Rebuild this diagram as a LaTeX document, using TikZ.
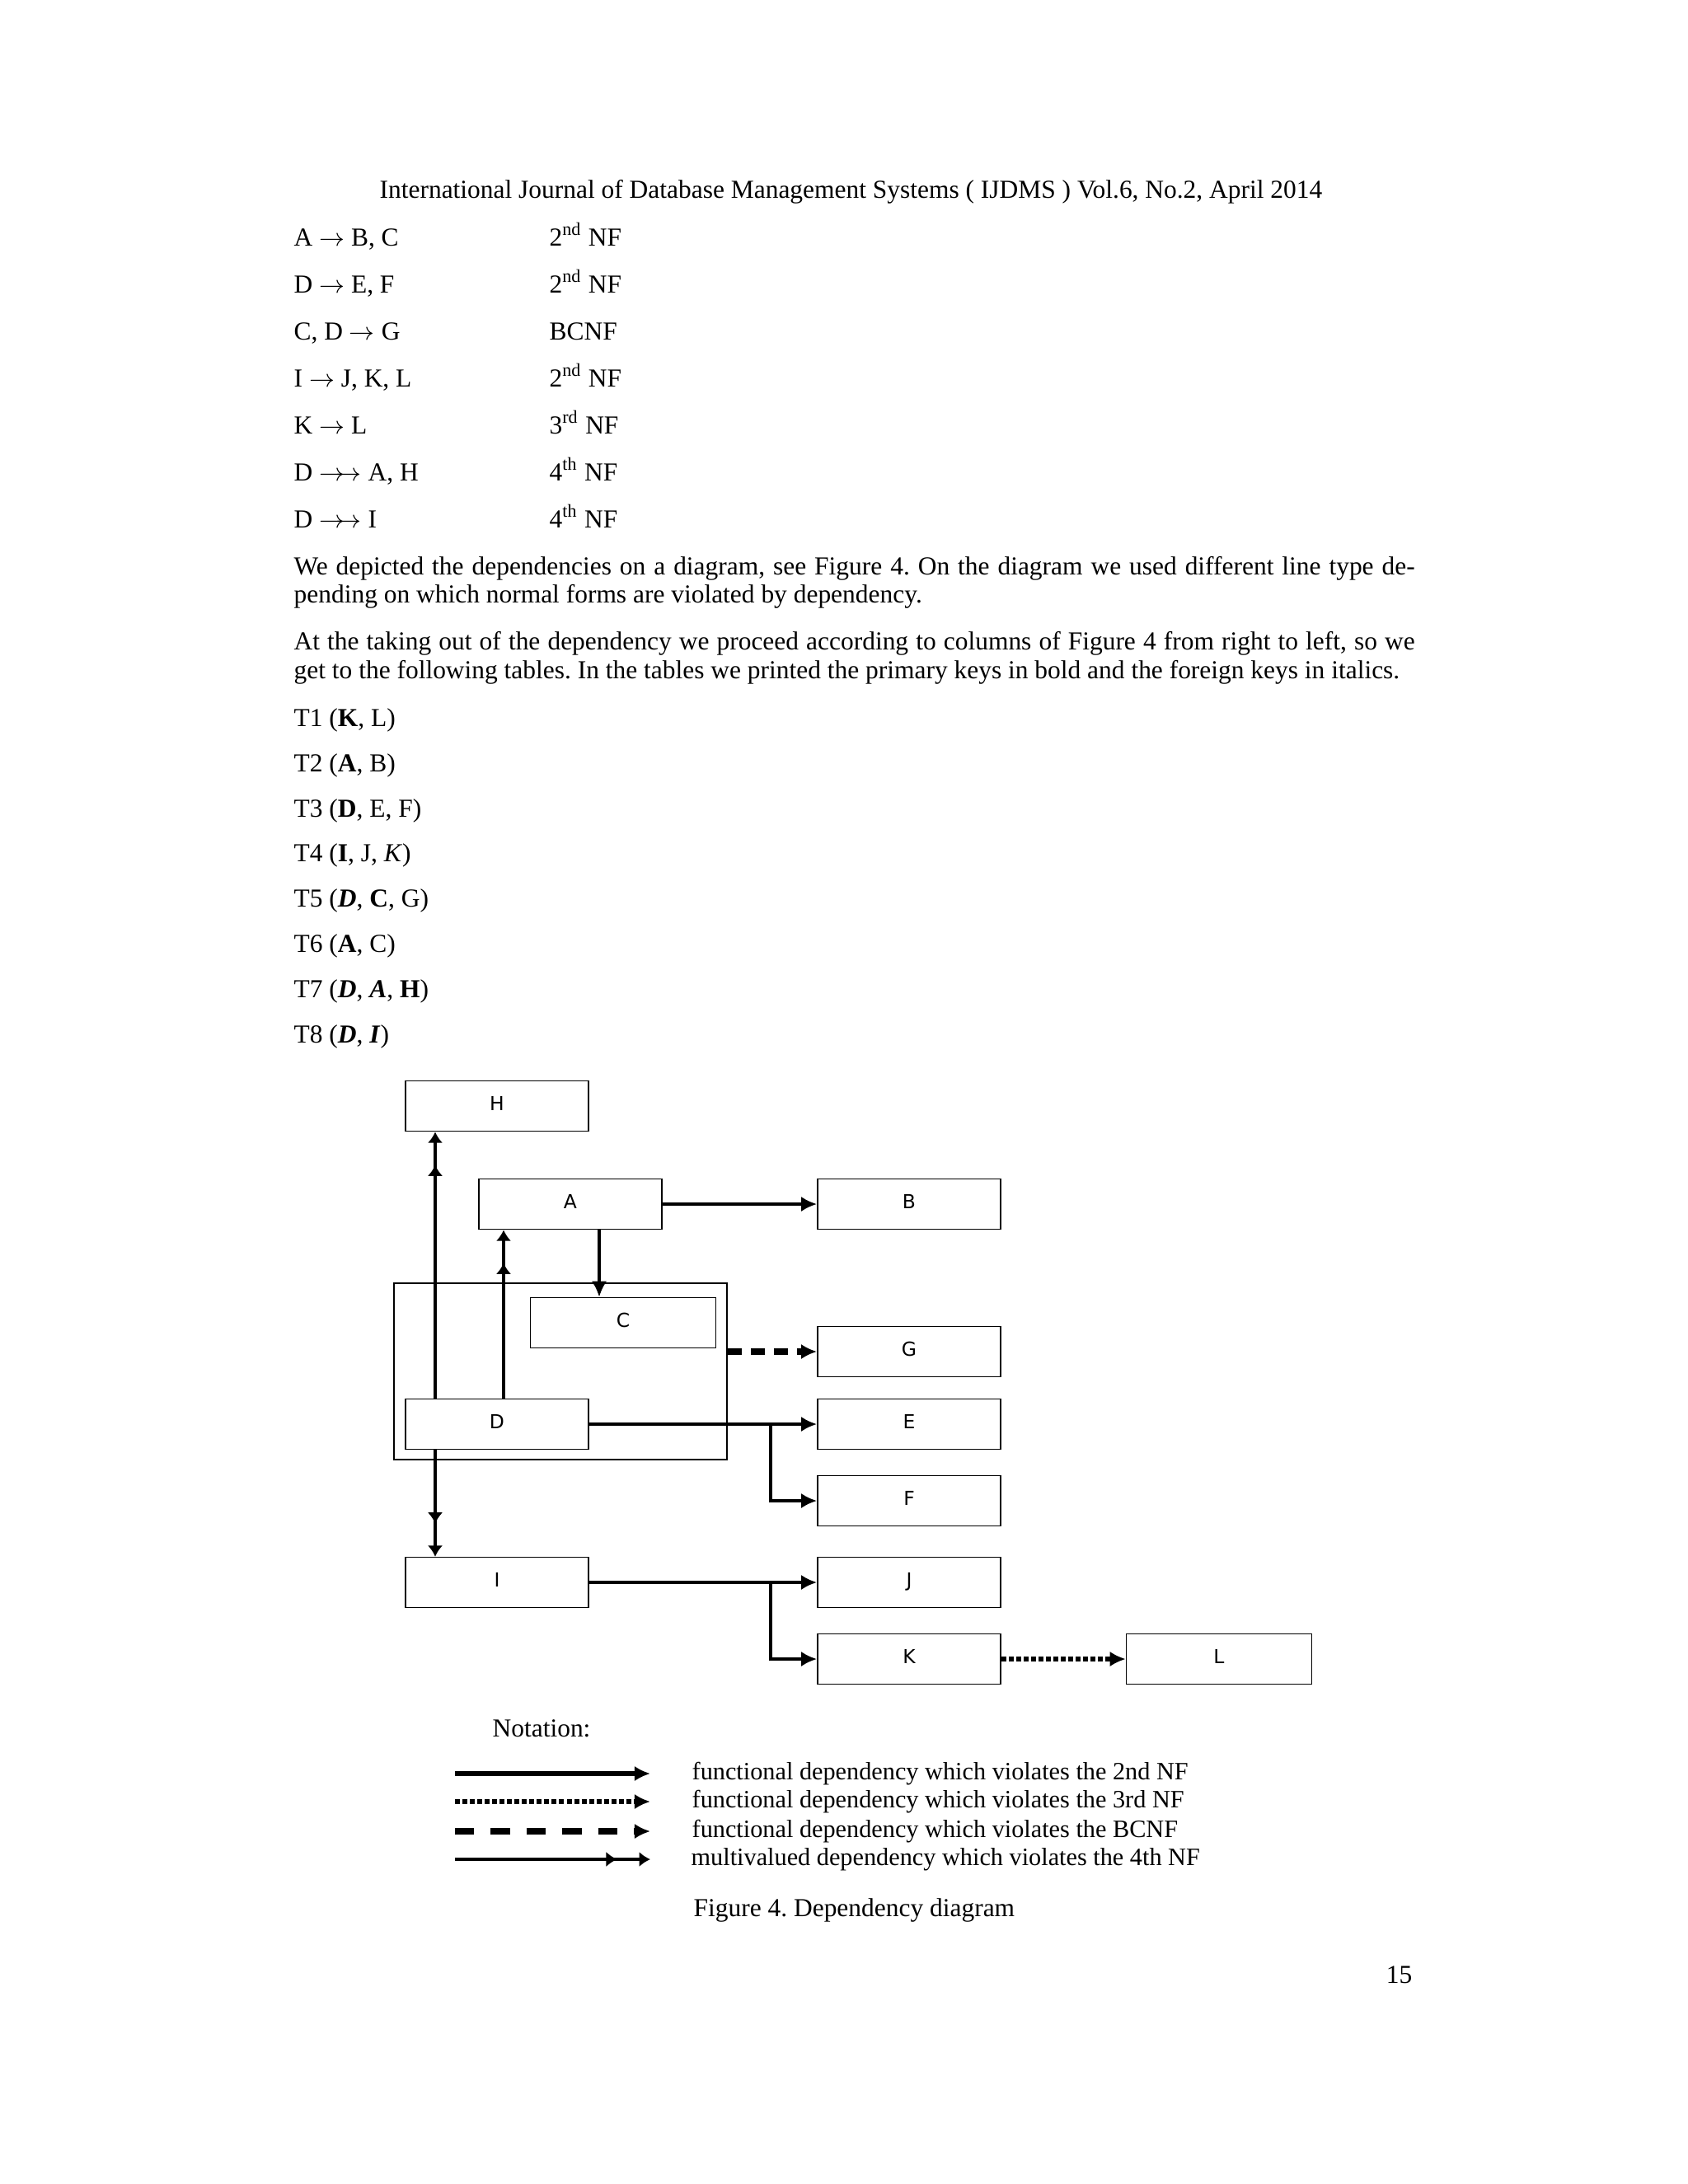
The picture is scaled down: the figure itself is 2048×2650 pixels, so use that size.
\documentclass[tikz,border=0pt]{standalone}
\usepackage{fontspec}
\setmainfont{Liberation Serif}
\newfontfamily\boxfont{DejaVu Sans}
\usepackage{tikz}
\usetikzlibrary{arrows.meta}
\frenchspacing
\tikzstyle{entity}=[draw, line width=0.5pt, minimum width=66.4pt, minimum height=18.2pt, inner sep=0pt, text height=5.1pt, text depth=2pt, font=\boxfont\fontsize{7}{8}\selectfont]
\tikzstyle{keyframe}=[draw, line width=0.5pt, minimum width=120.9pt, minimum height=64pt, inner sep=0pt]
\tikzstyle{pagetext}=[anchor=base west, inner sep=0pt, font=\fontsize{9.4}{11}\selectfont]
\tikzstyle{legendtext}=[anchor=base west, inner sep=0pt, font=\fontsize{9.05}{11}\selectfont]
\tikzstyle{secondnf}=[line width=1.1pt, -{Latex[length=5.7pt,width=5.5pt]}]
\tikzstyle{thirdnf}=[line width=1.8pt, dash pattern=on 1.8pt off 0.9pt, -{Latex[length=5.7pt,width=5.5pt]}]
\tikzstyle{bcnf}=[line width=2.2pt, dash pattern=on 5.1pt off 3.3pt, -{Latex[length=5.7pt,width=5.5pt]}]
\tikzstyle{fourthnf}=[line width=1.1pt, -{Latex[length=4pt,width=5.5pt,sep=8pt]Latex[length=4pt,width=5.5pt]}]

\begin{document}
\begin{tikzpicture}[x=0.2989pt,y=-0.2989pt]
	\fill[white] (0,0) rectangle (2048,2650);
	\useasboundingbox (0,0) rectangle (2048,2650);
	% page text
	\node[pagetext] (header) at (460,240) {International Journal of Database Management Systems ( IJDMS ) Vol.6, No.2, April 2014};
	\node[pagetext] (dep1) at (356,298) {A $\rightarrow$ B, C};
	\node[pagetext] (nf1) at (666,298) {2\textsuperscript{nd} NF};
	\node[pagetext] (dep2) at (356,355) {D $\rightarrow$ E, F};
	\node[pagetext] (nf2) at (666,355) {2\textsuperscript{nd} NF};
	\node[pagetext] (dep3) at (356,412) {C, D $\rightarrow$ G};
	\node[pagetext] (nf3) at (666,412) {BCNF};
	\node[pagetext] (dep4) at (356,469) {I $\rightarrow$ J, K, L};
	\node[pagetext] (nf4) at (666,469) {2\textsuperscript{nd} NF};
	\node[pagetext] (dep5) at (356,526) {K $\rightarrow$ L};
	\node[pagetext] (nf5) at (666,526) {3\textsuperscript{rd} NF};
	\node[pagetext] (dep6) at (356,583) {D $\rightarrow\!\!\rightarrow$ A, H};
	\node[pagetext] (nf6) at (666,583) {4\textsuperscript{th} NF};
	\node[pagetext] (dep7) at (356,640) {D $\rightarrow\!\!\rightarrow$ I};
	\node[pagetext] (nf7) at (666,640) {4\textsuperscript{th} NF};
	\node[pagetext] (par1a) at (356,697) {\makebox[406.5pt][s]{We depicted the dependencies on a diagram, see Figure 4. On the diagram we used different line type de-}};
	\node[pagetext] (par1b) at (356,731) {pending on which normal forms are violated by dependency.};
	\node[pagetext] (par2a) at (356,788) {\makebox[406.5pt][s]{At the taking out of the dependency we proceed according to columns of Figure 4 from right to left, so we}};
	\node[pagetext] (par2b) at (356,823) {get to the following tables. In the tables we printed the primary keys in bold and the foreign keys in italics.};
	\node[pagetext] (t1) at (356,881) {T1 (\textbf{K}, L)};
	\node[pagetext] (t2) at (356,936) {T2 (\textbf{A}, B)};
	\node[pagetext] (t3) at (356,991) {T3 (\textbf{D}, E, F)};
	\node[pagetext] (t4) at (356,1045) {T4 (\textbf{I}, J, \textit{K})};
	\node[pagetext] (t5) at (356,1100) {T5 (\textbf{\textit{D}}, \textbf{C}, G)};
	\node[pagetext] (t6) at (356,1155) {T6 (\textbf{A}, C)};
	\node[pagetext] (t7) at (356,1210) {T7 (\textbf{\textit{D}}, \textbf{\textit{A}}, \textbf{H})};
	\node[pagetext] (t8) at (356,1265) {T8 (\textbf{\textit{D}}, \textbf{\textit{I}})};
	% dependency diagram
	\node[keyframe] (CD) at (680,1664) {};
	\node[entity] (H) at (603,1342) {H};
	\node[entity] (A) at (692,1461) {A};
	\node[entity] (B) at (1103,1461) {B};
	\node[entity, minimum width=67.2pt] (C) at (756,1605) {C};
	\node[entity] (G) at (1103,1640) {G};
	\node[entity] (D) at (603,1728) {D};
	\node[entity] (E) at (1103,1728) {E};
	\node[entity] (F) at (1103,1821) {F};
	\node[entity] (I) at (603,1920) {I};
	\node[entity] (J) at (1103,1920) {J};
	\node[entity] (K) at (1103,2013) {K};
	\node[entity, minimum width=67.2pt] (L) at (1479,2013) {L};
	\coordinate (hcol) at (528,0);
	\coordinate (acol) at (611,0);
	\coordinate (ccol) at (727,0);
	\coordinate (efsplit) at (935,1728);
	\coordinate (jksplit) at (935,1920);
	\draw[fourthnf] (D.north -| hcol) -- (H.south -| hcol);
	\draw[fourthnf] (D.north -| acol) -- (A.south -| acol);
	\draw[fourthnf] (D.south -| hcol) -- (I.north -| hcol);
	\draw[secondnf] (A.south -| ccol) -- (C.north -| ccol);
	\draw[secondnf] (A) -- (B);
	\draw[bcnf] (CD.east |- G.west) -- (G.west);
	\draw[secondnf] (D) -- (E);
	\draw[secondnf] (efsplit) |- (F.west);
	\draw[secondnf] (I) -- (J);
	\draw[secondnf] (jksplit) |- (K.west);
	\draw[thirdnf] (K) -- (L);
	% notation
	\node[pagetext] (notation) at (597,2107) {Notation:};
	\coordinate (leg1s) at (552,2152);
	\coordinate (leg1e) at (789,2152);
	\coordinate (leg2s) at (552,2186);
	\coordinate (leg2e) at (789,2186);
	\coordinate (leg3s) at (552,2222);
	\coordinate (leg3e) at (789,2222);
	\coordinate (leg4s) at (552,2256);
	\coordinate (leg4e) at (789,2256);
	\draw[secondnf, line width=2pt] (leg1s) -- (leg1e);
	\draw[thirdnf] (leg2s) -- (leg2e);
	\draw[bcnf, dash pattern=on 7pt off 6pt] (leg3s) -- (leg3e);
	\draw[fourthnf] (leg4s) -- (leg4e);
	\node[legendtext] (leg1) at (839,2159) {functional dependency which violates the 2nd NF};
	\node[legendtext] (leg2) at (839,2193) {functional dependency which violates the 3rd NF};
	\node[legendtext] (leg3) at (839,2229) {functional dependency which violates the BCNF};
	\node[legendtext] (leg4) at (838,2263) {multivalued dependency which violates the 4th NF};
	\node[pagetext] (caption) at (841,2325) {Figure 4. Dependency diagram};
	\node[pagetext, anchor=base east] (pageno) at (1714,2406) {15};
\end{tikzpicture}
\end{document}
